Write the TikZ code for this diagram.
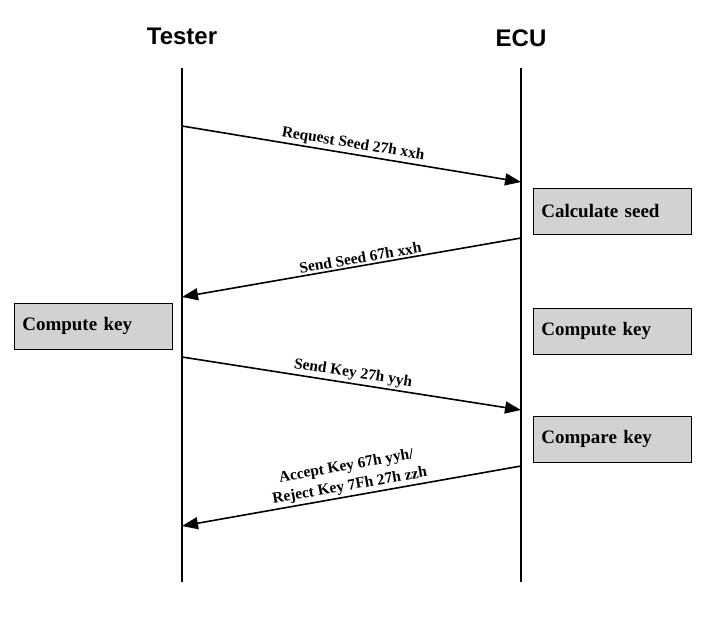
\documentclass[tikz,border=0pt]{standalone}
\usepackage{fontspec}
\setmainfont{Liberation Serif}
\newfontfamily\titlefont{Liberation Sans}
\usetikzlibrary{arrows.meta, calc}

\begin{document}
\begin{tikzpicture}[x=1pt, y=-1pt, line width=1.6pt, >={Triangle[length=16pt,width=12pt]},
  actor/.style={font=\titlefont\bfseries\fontsize{24}{28}\selectfont},
  msg/.style={font=\bfseries\fontsize{15.5}{20}\selectfont, sloped, above, inner sep=2pt, align=center},
  task/.style={draw, line width=0.6pt, fill=gray!35, minimum width=158pt, minimum height=46pt,
    text width=142pt, align=left, font=\bfseries\fontsize{19}{22}\selectfont, anchor=north west}]

  \useasboundingbox (0,0) rectangle (708,620);

  % Actors
  \node[actor] (tester) at (182,36) {Tester};
  \node[actor] (ecu) at (521,38) {ECU};

  % Lifelines
  \coordinate (T0) at (182,68);  \coordinate (T1) at (182,582);
  \coordinate (E0) at (521,68);  \coordinate (E1) at (521,582);
  \draw (T0) -- (T1);
  \draw (E0) -- (E1);

  % Message end points
  \coordinate (m1a) at (182,126); \coordinate (m1b) at (521,182);
  \coordinate (m2a) at (521,238); \coordinate (m2b) at (182,297);
  \coordinate (m3a) at (182,357); \coordinate (m3b) at (521,410);
  \coordinate (m4a) at (521,466); \coordinate (m4b) at (182,526);

  % Messages
  \draw[->] (m1a) -- (m1b) node[msg, pos=0.5] {Request Seed 27h xxh};
  \draw[->] (m2a) -- (m2b) node[msg, pos=0.47] {Send Seed 67h xxh};
  \draw[->] (m3a) -- (m3b) node[msg, pos=0.5] {Send Key 27h yyh};
  \draw[->] (m4a) -- (m4b) node[msg, pos=0.5] {Accept Key 67h yyh/\\Reject Key 7Fh 27h zzh};

  % Steps
  \node[task] (calc) at (533,188) {Calculate seed};
  \node[task] (ecukey) at (533,308) {Compute key};
  \node[task] (cmp) at (533,416) {Compare key};
  \node[task] (testkey) at (14,303) {Compute key};

\end{tikzpicture}
\end{document}
